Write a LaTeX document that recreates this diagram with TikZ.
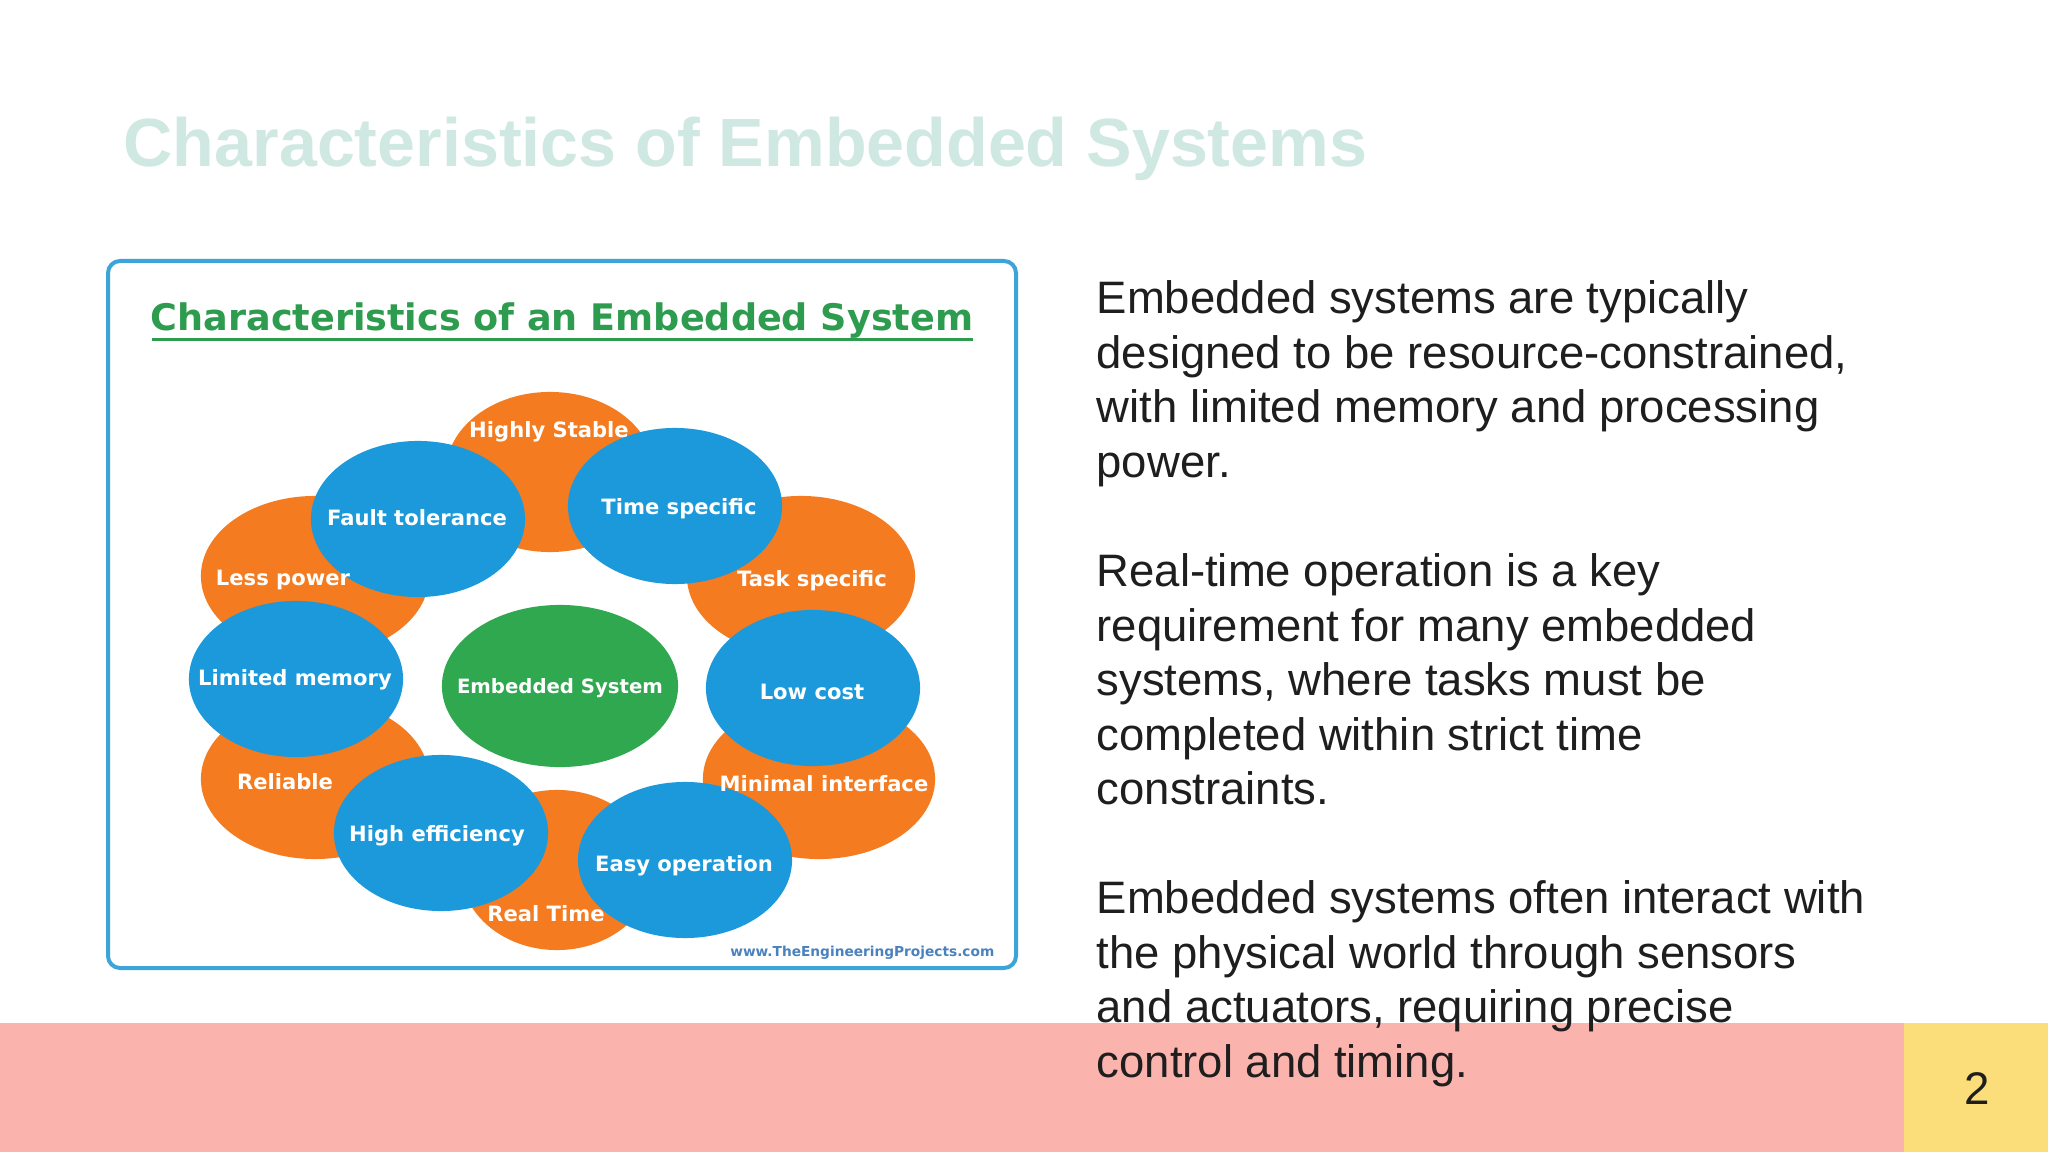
\documentclass[tikz,border=0pt]{standalone}
\usepackage{fontspec}
\setmainfont{Liberation Sans}
\newfontfamily\dejab{DejaVu Sans}
\usetikzlibrary{shapes.geometric}
\definecolor{orng}{HTML}{F47B20}
\definecolor{blu}{HTML}{1C99DA}
\definecolor{grn}{HTML}{2FA84F}
\definecolor{titlegrn}{HTML}{2E9C4E}
\definecolor{frameblue}{HTML}{3DA4DB}
\definecolor{titleteal}{HTML}{CFE8E2}
\definecolor{pinkband}{HTML}{FBB3AE}
\definecolor{yel}{HTML}{FBDD7A}
\definecolor{wm}{HTML}{4A82BE}
\definecolor{bodytext}{HTML}{1E1E1E}
\begin{document}
\begin{tikzpicture}[x=0.01cm,y=-0.01cm,
  blob/.style 2 args={ellipse, inner sep=0pt, minimum width=#1*0.02cm, minimum height=#2*0.02cm},
  orangeblob/.style={blob={#1}{80}, fill=orng},
  blueblob/.style={blob={107}{78}, fill=blu},
  lbl/.style={text=white, inner sep=0pt, font=\dejab\bfseries\fontsize{6}{7}\selectfont},
  bodyline/.style={anchor=base west, inner sep=0pt, text=bodytext, font=\fontsize{12.93}{15.4}\selectfont}
]
\useasboundingbox (0,0) rectangle (2048,1152);
\fill[white] (0,0) rectangle (2048,1152);

% slide title
\node[anchor=base west, inner sep=0pt, text=titleteal, font=\bfseries\fontsize{19.4}{23}\selectfont] (title) at (123,167) {Characteristics of Embedded Systems};

% picture frame
\draw[frameblue, line width=0.04cm, rounded corners=0.12cm] (108,261) rectangle (1016,968);
\node[anchor=base, inner sep=0pt, text=titlegrn, font=\dejab\bfseries\fontsize{10.4}{12}\selectfont] (ptitle) at (562,331) {Characteristics of an Embedded System};
\draw[titlegrn, line width=0.03cm] (152,340) -- (973,340);

% orange ellipses
\node[orangeblob=104] (hs) at (550,472) {};
\node[orangeblob=114] (lp) at (315,576) {};
\node[orangeblob=114] (ts) at (801,576) {};
\node[orangeblob=114] (rel) at (315,779) {};
\node[orangeblob=116] (mi) at (819,779) {};
\node[orangeblob=96] (rt) at (557,870) {};

% blue ellipses
\node[blueblob] (ft) at (418,519) {};
\node[blueblob] (tsp) at (675,506) {};
\node[blueblob] (lm) at (296,679) {};
\node[blueblob] (lc) at (813,688) {};
\node[blueblob] (he) at (441,833) {};
\node[blueblob] (eo) at (685,860) {};
\node[blob={118}{81}, fill=grn] (es) at (560,686) {};

% labels
\node[lbl] (ths) at (549,432) {Highly Stable};
\node[lbl] (tlp) at (283,580) {Less power};
\node[lbl] (tts) at (812,581) {Task specific};
\node[lbl] (trel) at (285,782) {Reliable};
\node[lbl] (tmi) at (824,784) {Minimal interface};
\node[lbl] (trt) at (546,914) {Real Time};
\node[lbl] (tft) at (417,518) {Fault tolerance};
\node[lbl] (ttsp) at (679,509) {Time specific};
\node[lbl] (tlm) at (295,680) {Limited memory};
\node[lbl] (tlc) at (812,692) {Low cost};
\node[lbl] (the) at (437,836) {High efficiency};
\node[lbl] (teo) at (684,866) {Easy operation};
\node[lbl, font=\dejab\bfseries\fontsize{5.6}{7}\selectfont] (tes) at (560,688) {Embedded System};
\node[anchor=base east, inner sep=0pt, text=wm, font=\dejab\bfseries\fontsize{3.9}{5}\selectfont] (wmark) at (995,956) {www.TheEngineeringProjects.com};

% bottom band
\fill[pinkband] (0,1023) rectangle (1904,1152);
\fill[yel] (1904,1023) rectangle (2048,1152);
\node[anchor=base, inner sep=0pt, text=bodytext, font=\fontsize{13}{15}\selectfont] (num) at (1977,1104) {2};

% body text
\foreach \t/\k [count=\i] in {
  {Embedded systems are typically}/0,
  {designed to be resource-constrained,}/1,
  {with limited memory and processing}/2,
  {power.}/3,
  {Real-time operation is a key}/5,
  {requirement for many embedded}/6,
  {systems, where tasks must be}/7,
  {completed within strict time}/8,
  {constraints.}/9,
  {Embedded systems often interact with}/11,
  {the physical world through sensors}/12,
  {and actuators, requiring precise}/13,
  {control and timing.}/14}
  \node[bodyline] (line\i) at (1096,314+54.5*\k) {\t};
\end{tikzpicture}
\end{document}
